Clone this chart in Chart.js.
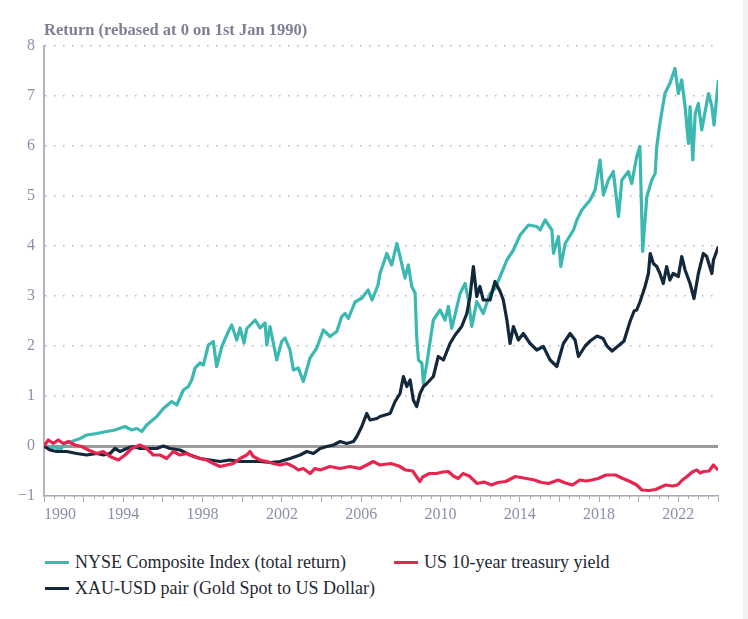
<!DOCTYPE html>
<html>
<head>
<meta charset="utf-8">
<script src="https://cdn.jsdelivr.net/npm/chart.js@4.4.0/dist/chart.umd.min.js"></script>
<style>
    body { margin: 0; background: #fff; }
    #wrap { position: relative; width: 748px; height: 619px; overflow: hidden; }
    #title { position: absolute; left: 44px; top: 20px; font: bold 16.5px "Liberation Serif", "Times New Roman", serif; color: #7d7f94; }
    #legend { position: absolute; left: 45px; top: 552px; display: grid; grid-template-columns: 349px auto; row-gap: 5px; font: 18px "Liberation Serif", "Times New Roman", serif; color: #1f2933; }
    .item { display: flex; align-items: center; height: 21px; }
    .swatch { display: inline-block; width: 24px; height: 3px; margin-right: 6px; }
    #strip { position: absolute; left: 743px; top: 0; width: 5px; height: 619px; background: #f1f1f1; }
</style>
</head>
<body>
<div id="wrap">
    <canvas id="myChartReturn" width="748" height="530"></canvas>
    <div id="title">Return (rebased at 0 on 1st Jan 1990)</div>
    <div id="legend"></div>
    <div id="strip"></div>
</div>
<script>
// NYSE Composite Index (total return)
var nyseYears = [1990.0, 1990.3, 1990.55, 1990.8, 1991.06, 1991.4, 1991.82, 1992.15, 1992.66, 1993.16, 1993.58, 1994.09, 1994.42, 1994.68, 1994.93, 1995.18, 1995.69, 1996.02, 1996.44, 1996.7, 1997.03, 1997.28, 1997.45, 1997.62, 1997.87, 1998.04, 1998.29, 1998.54, 1998.71, 1998.97, 1999.3, 1999.47, 1999.72, 1999.89, 2000.09, 2000.23, 2000.65, 2000.9, 2001.15, 2001.24, 2001.4, 2001.74, 2001.99, 2002.16, 2002.41, 2002.58, 2002.83, 2003.08, 2003.42, 2003.76, 2004.09, 2004.43, 2004.77, 2005.02, 2005.19, 2005.35, 2005.69, 2006.04, 2006.35, 2006.55, 2006.85, 2006.95, 2007.29, 2007.54, 2007.8, 2007.96, 2008.21, 2008.38, 2008.55, 2008.72, 2008.8, 2008.89, 2009.06, 2009.14, 2009.31, 2009.64, 2009.98, 2010.23, 2010.4, 2010.57, 2010.99, 2011.24, 2011.41, 2011.58, 2011.83, 2012.16, 2012.5, 2012.75, 2013.01, 2013.35, 2013.68, 2014.02, 2014.44, 2014.86, 2015.03, 2015.28, 2015.62, 2015.7, 2015.95, 2016.07, 2016.29, 2016.71, 2016.88, 2017.13, 2017.55, 2017.8, 2018.05, 2018.22, 2018.47, 2018.72, 2018.98, 2019.15, 2019.48, 2019.65, 2019.9, 2020.06, 2020.15, 2020.2, 2020.41, 2020.66, 2020.83, 2020.91, 2021.07, 2021.32, 2021.57, 2021.83, 2022.0, 2022.17, 2022.34, 2022.51, 2022.59, 2022.73, 2022.85, 2023.01, 2023.18, 2023.35, 2023.52, 2023.69, 2023.8, 2024.02];
var nyseReturn = [0, -0.05, -0.01, -0.09, 0.05, 0.09, 0.15, 0.22, 0.25, 0.29, 0.32, 0.39, 0.32, 0.35, 0.29, 0.42, 0.59, 0.75, 0.89, 0.82, 1.12, 1.19, 1.32, 1.56, 1.66, 1.62, 2.02, 2.09, 1.59, 1.99, 2.29, 2.42, 2.12, 2.36, 2.06, 2.35, 2.52, 2.36, 2.46, 2.02, 2.39, 1.72, 2.09, 2.16, 1.92, 1.52, 1.56, 1.29, 1.76, 1.96, 2.32, 2.19, 2.29, 2.59, 2.65, 2.55, 2.88, 2.96, 3.12, 2.92, 3.22, 3.45, 3.85, 3.62, 4.05, 3.79, 3.36, 3.62, 3.19, 3.06, 2.19, 1.72, 1.66, 1.25, 1.65, 2.52, 2.72, 2.52, 2.79, 2.35, 3.05, 3.25, 2.92, 2.39, 2.89, 2.65, 3.05, 3.15, 3.39, 3.72, 3.92, 4.22, 4.42, 4.39, 4.32, 4.52, 4.32, 3.85, 4.19, 3.59, 4.05, 4.32, 4.52, 4.72, 4.92, 5.12, 5.72, 5.02, 5.32, 5.49, 4.59, 5.32, 5.49, 5.25, 5.79, 5.99, 4.65, 3.89, 4.99, 5.32, 5.45, 5.99, 6.45, 7.05, 7.25, 7.55, 7.05, 7.32, 6.79, 6.05, 6.79, 5.72, 6.65, 6.85, 6.32, 6.69, 7.05, 6.79, 6.42, 7.32];

// XAU-USD
var goldYears = [1990.0, 1990.3, 1990.64, 1991.15, 1991.65, 1992.15, 1992.66, 1993.0, 1993.33, 1993.58, 1993.84, 1994.17, 1994.5, 1994.84, 1995.35, 1995.69, 1996.02, 1996.36, 1996.86, 1997.37, 1997.87, 1998.38, 1998.88, 1999.38, 1999.89, 2000.39, 2000.9, 2001.4, 2001.91, 2002.41, 2002.92, 2003.26, 2003.59, 2003.93, 2004.26, 2004.6, 2004.94, 2005.27, 2005.61, 2005.78, 2006.03, 2006.28, 2006.45, 2006.79, 2006.95, 2007.46, 2007.71, 2007.96, 2008.13, 2008.3, 2008.47, 2008.63, 2008.8, 2008.97, 2009.14, 2009.31, 2009.64, 2009.89, 2010.15, 2010.48, 2010.74, 2011.07, 2011.33, 2011.49, 2011.66, 2011.83, 2011.99, 2012.16, 2012.5, 2012.75, 2013.01, 2013.17, 2013.35, 2013.51, 2013.68, 2013.93, 2014.18, 2014.52, 2014.86, 2015.19, 2015.53, 2015.87, 2016.2, 2016.54, 2016.79, 2016.96, 2017.3, 2017.55, 2017.9, 2018.2, 2018.4, 2018.66, 2018.96, 2019.26, 2019.57, 2019.77, 2019.9, 2020.07, 2020.32, 2020.49, 2020.58, 2020.74, 2020.91, 2021.07, 2021.24, 2021.41, 2021.57, 2021.74, 2022.0, 2022.17, 2022.34, 2022.59, 2022.79, 2023.01, 2023.26, 2023.43, 2023.69, 2023.77, 2024.02];
var goldReturn = [0, -0.08, -0.11, -0.11, -0.15, -0.18, -0.15, -0.18, -0.15, -0.05, -0.11, -0.05, -0.01, -0.05, -0.05, -0.05, 0.0, -0.05, -0.08, -0.18, -0.25, -0.28, -0.31, -0.28, -0.31, -0.31, -0.31, -0.33, -0.31, -0.25, -0.18, -0.11, -0.15, -0.05, -0.01, 0.02, 0.09, 0.05, 0.09, 0.19, 0.39, 0.65, 0.52, 0.55, 0.59, 0.65, 0.89, 1.05, 1.39, 1.19, 1.32, 0.92, 0.79, 1.05, 1.19, 1.25, 1.39, 1.79, 1.72, 2.05, 2.22, 2.39, 2.65, 2.99, 3.59, 2.99, 3.19, 2.92, 2.92, 3.29, 3.09, 2.92, 2.52, 2.05, 2.39, 2.12, 2.25, 2.05, 1.92, 1.99, 1.72, 1.59, 2.05, 2.25, 2.12, 1.79, 2.0, 2.1, 2.2, 2.15, 2.0, 1.9, 2.0, 2.1, 2.5, 2.7, 2.72, 2.89, 3.19, 3.45, 3.85, 3.65, 3.59, 3.45, 3.25, 3.59, 3.32, 3.45, 3.39, 3.79, 3.52, 3.25, 2.95, 3.45, 3.85, 3.79, 3.45, 3.72, 3.99];

// US 10-year treasury yield
var yieldYears = [1990.0, 1990.22, 1990.47, 1990.72, 1990.97, 1991.23, 1991.56, 1991.9, 1992.24, 1992.66, 1992.99, 1993.33, 1993.75, 1994.09, 1994.42, 1994.84, 1995.18, 1995.51, 1995.85, 1996.19, 1996.52, 1996.86, 1997.2, 1997.53, 1997.87, 1998.21, 1998.54, 1998.88, 1999.22, 1999.55, 1999.89, 2000.23, 2000.39, 2000.56, 2000.9, 2001.24, 2001.57, 2001.91, 2002.25, 2002.58, 2002.83, 2003.08, 2003.42, 2003.67, 2003.93, 2004.43, 2004.93, 2005.43, 2005.94, 2006.28, 2006.61, 2006.95, 2007.5, 2007.9, 2008.24, 2008.6, 2008.96, 2009.1, 2009.45, 2009.8, 2010.1, 2010.4, 2010.65, 2010.9, 2011.13, 2011.45, 2011.85, 2012.2, 2012.57, 2012.9, 2013.29, 2013.78, 2014.2, 2014.74, 2015.1, 2015.46, 2015.94, 2016.3, 2016.66, 2017.03, 2017.35, 2017.63, 2017.95, 2018.35, 2018.83, 2019.2, 2019.56, 2019.9, 2020.16, 2020.52, 2020.85, 2021.36, 2021.7, 2021.96, 2022.2, 2022.44, 2022.7, 2022.93, 2023.1, 2023.28, 2023.55, 2023.77, 2024.0];
var yieldReturn = [0, 0.12, 0.05, 0.12, 0.05, 0.09, 0.02, -0.01, -0.08, -0.15, -0.11, -0.21, -0.28, -0.18, -0.05, 0.02, -0.05, -0.18, -0.18, -0.25, -0.11, -0.18, -0.15, -0.21, -0.25, -0.28, -0.35, -0.41, -0.38, -0.35, -0.25, -0.18, -0.11, -0.21, -0.28, -0.31, -0.35, -0.38, -0.35, -0.41, -0.48, -0.45, -0.55, -0.45, -0.48, -0.41, -0.45, -0.41, -0.45, -0.38, -0.31, -0.38, -0.35, -0.4, -0.48, -0.5, -0.71, -0.62, -0.55, -0.55, -0.52, -0.51, -0.6, -0.65, -0.55, -0.6, -0.75, -0.72, -0.78, -0.73, -0.71, -0.61, -0.64, -0.68, -0.73, -0.75, -0.68, -0.74, -0.78, -0.68, -0.7, -0.68, -0.65, -0.58, -0.58, -0.65, -0.71, -0.78, -0.88, -0.89, -0.87, -0.78, -0.8, -0.78, -0.68, -0.61, -0.52, -0.48, -0.54, -0.51, -0.5, -0.38, -0.48];

var yTicks = [-1, 0, 1, 2, 3, 4, 5, 6, 7, 8];
var xLabelYears = [1990, 1994, 1998, 2002, 2006, 2010, 2014, 2018, 2022];

var serifFont = '"Liberation Serif", "Times New Roman", serif';

function toPoints(xs, ys) {
    return xs.map(function (x, i) { return { x: x, y: ys[i] }; });
}

// small half-year / odd-year ticks under the x axis
var minorTicks = {
    id: 'minorTicks',
    afterDraw: function (chart) {
        var xs = chart.scales.x;
        var ctx = chart.ctx;
        ctx.save();
        ctx.strokeStyle = '#a9a9b8';
        ctx.lineWidth = 1;
        for (var t = 1990.5; t < 2024; t += 0.5) {
            if (t % 2 === 0) continue;
            var px = Math.round(xs.getPixelForValue(t)) + 0.5;
            ctx.beginPath();
            ctx.moveTo(px, xs.top);
            ctx.lineTo(px, xs.top + 3);
            ctx.stroke();
        }
        ctx.restore();
    }
};

document.addEventListener("DOMContentLoaded", function () {
    var series = [
        { label: 'US 10-year treasury yield', color: '#e6264f', data: toPoints(yieldYears, yieldReturn) },
        { label: 'XAU-USD pair (Gold Spot to US Dollar)', color: '#13293b', data: toPoints(goldYears, goldReturn) },
        { label: 'NYSE Composite Index (total return)', color: '#3bb9b1', data: toPoints(nyseYears, nyseReturn) }
    ];

    var ctxReturn = document.getElementById('myChartReturn').getContext('2d');
    var myChartReturn = new Chart(ctxReturn, {
        type: 'line',
        data: {
            datasets: series.map(function (s) {
                return {
                    label: s.label,
                    data: s.data,
                    borderColor: s.color,
                    backgroundColor: s.color,
                    borderWidth: 3.2,
                    pointRadius: 0,
                    tension: 0,
                    borderJoinStyle: 'round'
                };
            })
        },
        plugins: [minorTicks],
        options: {
            responsive: false,
            animation: false,
            layout: { autoPadding: false, padding: { top: 46, right: 30, left: 0, bottom: 0 } },
            plugins: {
                legend: { display: false },
                tooltip: { enabled: false }
            },
            scales: {
                x: {
                    type: 'linear',
                    min: 1990,
                    max: 2024,
                    afterFit: function (scale) { scale.height = 34; },
                    afterBuildTicks: function (scale) {
                        var ticks = [];
                        for (var y = 1990; y <= 2024; y += 2) ticks.push({ value: y });
                        scale.ticks = ticks;
                    },
                    ticks: {
                        autoSkip: false,
                        maxRotation: 0,
                        align: 'inner',
                        padding: 3,
                        color: '#8b90aa',
                        font: { family: serifFont, size: 16 },
                        callback: function (value) {
                            return xLabelYears.indexOf(value) >= 0 ? String(value) : '';
                        }
                    },
                    grid: {
                        drawOnChartArea: false,
                        tickLength: 6,
                        tickColor: '#a9a9b8',
                        tickWidth: 1
                    },
                    border: { color: '#a9a9b8', width: 1.5 }
                },
                y: {
                    min: -1,
                    max: 8,
                    afterFit: function (scale) { scale.width = 44; },
                    afterBuildTicks: function (scale) {
                        scale.ticks = yTicks.map(function (v) { return { value: v }; });
                    },
                    ticks: {
                        padding: 9,
                        color: '#8b90aa',
                        font: { family: serifFont, size: 16 },
                        callback: function (value) {
                            return value < 0 ? '\u2212' + Math.abs(value) : String(value);
                        }
                    },
                    grid: {
                        drawTicks: false,
                        color: function (c) { return c.tick && c.tick.value === 0 ? '#9a9a9a' : '#b3b3c8'; },
                        lineWidth: function (c) { return c.tick && c.tick.value === 0 ? 3 : 1.5; }
                    },
                    border: {
                        color: '#b4b4c0',
                        width: 2,
                        dash: function (c) {
                            return c.type === 'tick' && c.tick.value !== 0 ? [1.5, 7.5] : [];
                        }
                    }
                }
            }
        }
    });

    // legend in the order of the reference (two columns)
    var legendOrder = [2, 0, 1];
    var legendEl = document.getElementById('legend');
    legendOrder.forEach(function (i) {
        var item = document.createElement('div');
        item.className = 'item';
        var sw = document.createElement('span');
        sw.className = 'swatch';
        sw.style.background = series[i].color;
        item.appendChild(sw);
        item.appendChild(document.createTextNode(series[i].label));
        legendEl.appendChild(item);
    });
});
</script>
</body>
</html>
